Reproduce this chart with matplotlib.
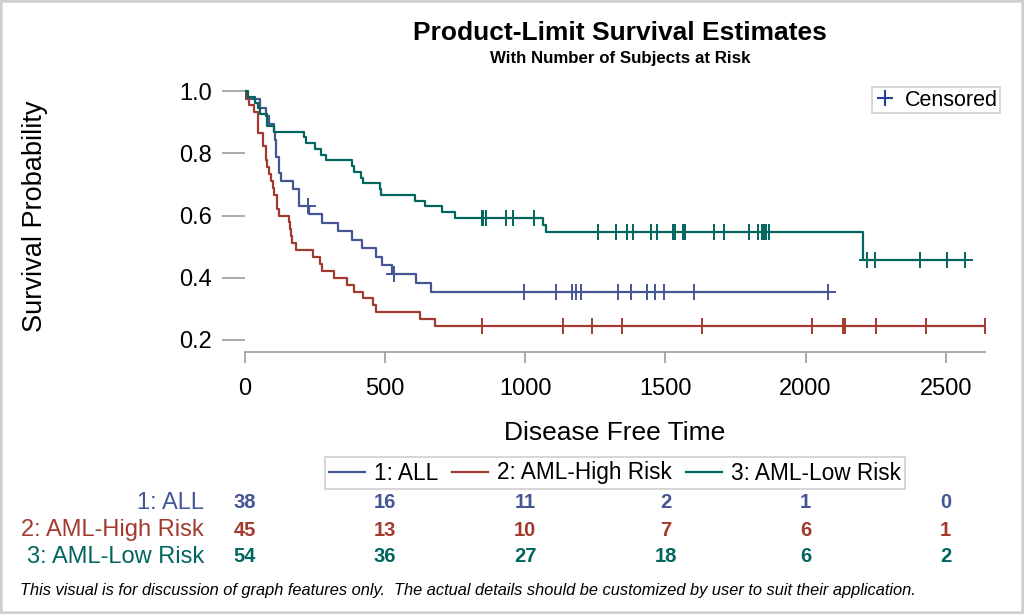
import numpy as np
import matplotlib.pyplot as plt
from matplotlib.lines import Line2D
from matplotlib.patches import Rectangle

plt.rcParams['font.family'] = ['Liberation Sans', 'DejaVu Sans']

# disease free times and event flags (1 = event, 0 = censored), per group
all_time = [2081, 1602, 1496, 1462, 1433, 1377, 1330, 996, 226, 1199, 1111, 530, 1182, 1167,
            418, 383, 276, 104, 609, 172, 487, 662, 194, 230, 526, 122, 129, 74, 122, 86,
            466, 192, 109, 55, 1, 107, 110, 332]
all_event = [0] * 14 + [1] * 24

high_time = [2640, 2430, 2252, 2140, 2133, 1238, 1631, 2024, 1345, 1136, 845,
             422, 162, 84, 100, 2, 47, 242, 456, 268, 318, 32, 467, 47, 390, 183, 105,
             115, 164, 93, 120, 80, 677, 64, 168, 74, 16, 157, 625, 48, 273, 63, 76, 113, 363]
high_event = [0] * 11 + [1] * 34

low_time = [2569, 2506, 2409, 2218, 1857, 1829, 1562, 1470, 1363, 1030, 860, 1258, 2246,
            1870, 1799, 1709, 1674, 1568, 1527, 1324, 957, 932, 847, 848, 1850, 1843, 1535,
            1447, 1384, 414, 2204, 1063, 481, 105, 641, 390, 288, 421, 79, 748, 486, 48, 272,
            1074, 381, 10, 53, 80, 35, 248, 704, 211, 219, 606]
low_event = [0] * 29 + [1] * 25

groups = ['1: ALL', '2: AML-High Risk', '3: AML-Low Risk']
colors = ['#445694', '#A23A2E', '#01665E']

risk_times = [0, 500, 1000, 1500, 2000, 2500]
risk_all = [38, 16, 11, 2, 1, 0]
risk_high = [45, 13, 10, 7, 6, 1]
risk_low = [54, 36, 27, 18, 6, 2]


def km(times, events):
    t = np.array(times, dtype=float)
    e = np.array(events)
    xs, ys = [0.0], [1.0]
    s = 1.0
    for u in np.unique(t[e == 1]):
        n = np.sum(t >= u)
        d = np.sum((t == u) & (e == 1))
        s *= 1 - d / n
        xs.append(u)
        ys.append(s)
    xs.append(t.max())
    ys.append(ys[-1])
    xs, ys = np.array(xs), np.array(ys)
    ct = np.sort(t[e == 0])
    cs = ys[np.searchsorted(xs[:-1], ct, side='right') - 1]
    return xs, ys, ct, cs


fig = plt.figure(figsize=(10.24, 6.14), dpi=100)
ax = fig.add_axes([245 / 1024, 1 - 352 / 614, 740 / 1024, (352 - 85) / 614])

data = [(all_time, all_event), (high_time, high_event), (low_time, low_event)]
for (tt, ee), c, g in zip(data, colors, groups):
    xs, ys, ct, cs = km(tt, ee)
    ax.step(xs, ys, where='post', color=c, lw=1.6, label=g)
    ax.plot(ct, cs, ls='none', marker='+', ms=11, mew=1.4, color=c)

ax.set_xlim(0, 2640)
ax.set_ylim(0.161, 1.02)
ax.set_xticks(risk_times)
ax.set_yticks([0.2, 0.4, 0.6, 0.8, 1.0])
ax.set_yticklabels(['0.2', '0.4', '0.6', '0.8', '1.0'])
for s in ['top', 'right', 'left']:
    ax.spines[s].set_visible(False)
ax.spines['bottom'].set_color('#a0a4a8')
ax.spines['bottom'].set_linewidth(1.3)
ax.tick_params(axis='x', length=8, width=1.3, color='#a0a4a8', labelsize=17, pad=11)
ax.tick_params(axis='y', length=16.5, width=1.3, color='#a0a4a8', labelsize=17, pad=7)
ax.set_xlabel('Disease Free Time', fontsize=19, labelpad=15)
ax.set_ylabel('Survival Probability', fontsize=19.5, va='center')
ax.yaxis.set_label_coords(35 / 1024, 1 - 216 / 614, transform=fig.transFigure)

# censored legend
cens = Line2D([], [], ls='none', marker='+', ms=12, mew=1.5, color='#23419a')
leg1 = fig.legend([cens], ['Censored'], loc='upper right', bbox_to_anchor=(1000 / 1024, 1 - 87 / 614),
                  fontsize=15.5, frameon=True, fancybox=False, edgecolor='#c8c8c8',
                  handlelength=1.0, handletextpad=0.4, borderpad=0.12, borderaxespad=0)
leg1.get_frame().set_linewidth(1.3)

# group legend
handles = [Line2D([], [], color=c, lw=1.6) for c in colors]
leg2 = fig.legend(handles, groups, loc='center', bbox_to_anchor=(615 / 1024, 1 - 473 / 614), ncol=3,
                  fontsize=16.3, frameon=True, fancybox=False, edgecolor='#c8c8c8',
                  handlelength=1.6, handletextpad=0.4, columnspacing=0.6, borderpad=0.2)
leg2.get_frame().set_linewidth(1.3)

# number at risk table
rows = [risk_all, risk_high, risk_low]
row_y = [503, 530, 557]
for vals, c, g, yy in zip(rows, colors, groups, row_y):
    fig.text(204 / 1024, 1 - yy / 614, g, color=c, fontsize=17, ha='right', va='center')
    for t, v in zip(risk_times, vals):
        xf = ax.transData.transform((t, 0.5))[0] / fig.bbox.width
        fig.text(xf, 1 - yy / 614, str(v), color=c, fontsize=14.5, fontweight='bold',
                 ha='center', va='center')

fig.text(620 / 1024, 1 - 33 / 614, 'Product-Limit Survival Estimates', fontsize=19,
         fontweight='bold', ha='center', va='center')
fig.text(620 / 1024, 1 - 59 / 614, 'With Number of Subjects at Risk', fontsize=12.2,
         fontweight='bold', ha='center', va='center')
fig.text(20 / 1024, 1 - 590 / 614, 'This visual is for discussion of graph features only.  '
         'The actual details should be customized by user to suit their application.',
         fontsize=11.8, style='italic', ha='left', va='center')

fig.add_artist(Rectangle((0, 0), 1, 1, transform=fig.transFigure, fill=False,
                         edgecolor='#d0d0d0', lw=4))

fig.savefig('out.png', dpi=100)
